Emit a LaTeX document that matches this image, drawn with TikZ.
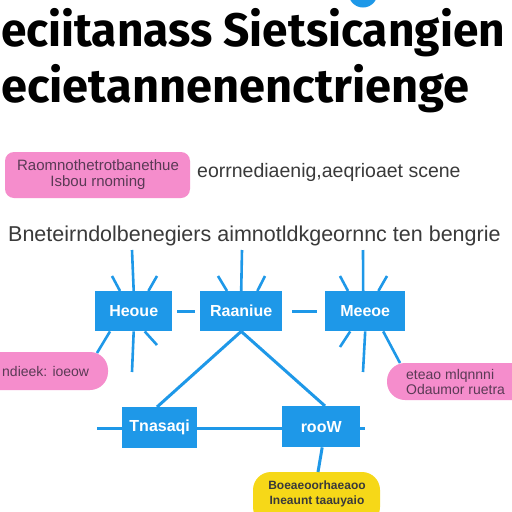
\documentclass[tikz,border=0pt]{standalone}
\usepackage{fontspec}
\setmainfont{Liberation Sans}
\newfontfamily\titlefont{Fira Sans}
\definecolor{cblue}{HTML}{1E98E8}
\definecolor{cpink}{HTML}{F58DCC}
\definecolor{cyel}{HTML}{F6D818}
\definecolor{ctext}{HTML}{3A3A3A}
\definecolor{cpinktext}{HTML}{5A3A55}
\begin{document}
\begin{tikzpicture}[x=1pt,y=-1pt,
  bbox/.style={draw=none,fill=cblue,text=white,font=\bfseries\fontsize{16}{16}\selectfont,inner sep=0pt,anchor=north west},
  link/.style={draw=cblue,line width=3pt},
  ray/.style={draw=cblue,line width=2.6pt},
  note/.style={text=cpinktext,font=\fontsize{14}{15}\selectfont,align=left,inner sep=0pt},
  titletext/.style={anchor=base west,inner sep=0pt,font=\titlefont\bfseries\fontsize{47}{47}\selectfont},
]
\useasboundingbox (0,0) rectangle (512,512);
\fill[white] (0,0) rectangle (512,512);
% blue dot
\fill[cblue] (363,-7) circle (14.5);
% title
\node[titletext,xscale=0.98] (t1) at (1,46) {eciitanass Sietsicangien};
\node[titletext] (t2) at (1,102) {ecietannenenctrienge};
% pink top
\fill[cpink,rounded corners=9pt] (5,152) rectangle (190,198);
\node[note,align=center,font=\fontsize{15}{16}\selectfont] (p1) at (98,175) {Raomnothetrotbanethue\\Isbou rnoming};
\node[anchor=west,inner sep=0pt,text=ctext,font=\fontsize{19.5}{19.5}\selectfont] (l1) at (197,172) {eorrnediaenig,aeqrioaet scene};
\node[anchor=west,inner sep=0pt,text=ctext,font=\fontsize{21.5}{21.5}\selectfont] (l2) at (8,236) {Bneteirndolbenegiers aimnotldkgeornnc ten bengrie};
% boxes
\node[bbox,minimum width=77pt,minimum height=40pt] (b1) at (95,291) {Heoue};
\node[bbox,minimum width=82pt,minimum height=40pt] (b2) at (200,291) {Raaniue};
\node[bbox,minimum width=80pt,minimum height=40pt] (b3) at (325,291) {Meeoe};
\node[bbox,minimum width=75pt,minimum height=41pt] (b4) at (122,407) {Tnasaqi};
\node[bbox,minimum width=78pt,minimum height=41pt] (b5) at (282,406) {rooW};
% pink left/right, yellow
\fill[cpink,rounded corners=18pt] (-30,352) rectangle (108,390);
\node[note,anchor=west] (pl) at (2,371) {ndieek: ioeow};
\fill[cpink,rounded corners=18pt] (387,363) rectangle (540,400);
\node[note,anchor=west] (pr) at (406,381.5) {eteao mlqnnni\\Odaumor ruetra};
\fill[cyel,rounded corners=18pt] (253,472) rectangle (380,525);
\node[note,text=ctext,align=center,font=\bfseries\fontsize{12}{15}\selectfont] (py) at (317,494) {Boeaeoorhaeaoo\\Ineaunt taauyaio};
% ray ends
\coordinate (r1a) at (132,250); \coordinate (r1b) at (112,276); \coordinate (r1c) at (157,276);
\coordinate (r2a) at (242,250); \coordinate (r2b) at (218,276); \coordinate (r2c) at (265,276);
\coordinate (r3a) at (363,250); \coordinate (r3b) at (340,276); \coordinate (r3c) at (387,276);
\coordinate (s1a) at (132,372); \coordinate (s1b) at (97,353); \coordinate (s1c) at (157,345);
\coordinate (s3a) at (363,372); \coordinate (s3b) at (340,347); \coordinate (s3c) at (400,363);
\coordinate (h0) at (97,428); \coordinate (h1) at (365,428);
% rays top
\draw[ray] (r1a) -- (b1.north); \draw[ray] (r1b) -- ([xshift=25pt]b1.north west); \draw[ray] (r1c) -- ([xshift=-24pt]b1.north east);
\draw[ray] (r2a) -- (b2.north); \draw[ray] (r2b) -- ([xshift=27pt]b2.north west); \draw[ray] (r2c) -- ([xshift=-25pt]b2.north east);
\draw[ray] (r3a) -- ([xshift=-2pt]b3.north); \draw[ray] (r3b) -- ([xshift=23pt]b3.north west); \draw[ray] (r3c) -- ([xshift=-27pt]b3.north east);
% rays bottom
\draw[ray] ([xshift=15pt]b1.south west) -- (s1b);
\draw[ray] (b1.south) -- (s1a); \draw[ray] ([xshift=11pt]b1.south) -- (s1c);
\draw[ray] (b3.south) -- (s3a); \draw[ray] ([xshift=-15pt]b3.south) -- (s3b);
\draw[ray] ([xshift=18pt]b3.south) -- (s3c);
% links
\draw[link,shorten <=5pt,shorten >=5pt] (b1) -- (b2);
\draw[link,shorten <=10pt,shorten >=8pt] (b2) -- (b3);
\draw[link] (b2.south) -- ([xshift=35pt]b4.north west);
\draw[link] (b2.south) -- ([xshift=43pt]b5.north west);
\draw[link] (h0) -- (h0 -| b4.west);
\draw[link] (h0 -| b4.east) -- (h0 -| b5.west);
\draw[link] (h0 -| b5.east) -- (h1);
\draw[link] ([xshift=1pt]b5.south) -- (318,472);
\end{tikzpicture}
\end{document}
